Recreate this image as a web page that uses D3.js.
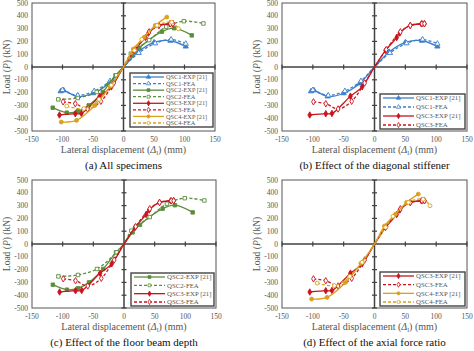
<!DOCTYPE html>
<html>
<head>
<meta charset="utf-8">
<script src="https://cdn.jsdelivr.net/npm/d3@7/dist/d3.min.js"></script>
<style>
  body { margin: 0; background: #fff; }
  svg { display: block; font-family: "Liberation Serif", "Times New Roman", serif; }
</style>
</head>
<body>
<svg id="chart" width="474" height="351"></svg>
<script>
// skeleton curves: displacement (mm) and load (kN)
var qsc1ExpX = [-103, -98, -76, -50, -24, 0, 24, 50, 77, 102]
var qsc1ExpY = [-190, -183, -230, -205, -128, 0, 118, 192, 205, 160]
var qsc1FeaX = [-100, -75, -48, -22, 0, 25, 52, 78, 102]
var qsc1FeaY = [-180, -222, -188, -110, 0, 110, 185, 215, 182]

var qsc2ExpX = [-116, -93, -75, -57, -34, -13, 0, 14, 26, 63, 83, 112]
var qsc2ExpY = [-318, -357, -346, -300, -195, -65, 0, 91, 150, 276, 303, 247]
var qsc2FeaX = [-107, -75, -44, -12, 0, 12, 42, 70, 99, 131]
var qsc2FeaY = [-253, -242, -195, -65, 0, 104, 210, 315, 358, 340]

var qsc3ExpX = [-105, -79, -69, -39, -20, 0, 18, 36, 41, 58, 76, 81]
var qsc3ExpY = [-375, -365, -363, -228, -155, 0, 130, 230, 265, 325, 337, 338]
var qsc3FeaX = [-99, -79, -59, -37, -16, 0, 19, 42, 58, 77, 81]
var qsc3FeaY = [-272, -287, -328, -268, -125, 0, 136, 275, 324, 338, 338]

var qsc4ExpX = [-102, -77, -47, -22, 0, 16, 34, 52, 71]
var qsc4ExpY = [-430, -417, -300, -151, 0, 140, 232, 325, 390]
var qsc4FeaX = [-93, -65, -40, -20, 0, 18, 30, 55, 79, 90]
var qsc4FeaY = [-305, -325, -253, -143, 0, 130, 216, 325, 350, 299]

var xTicks = [-150, -100, -50, 0, 50, 100, 150]
var yTicks = [-500, -400, -300, -200, -100, 0, 100, 200, 300, 400, 500]

var captions = ['(a) All specimens', '(b) Effect of the diagonal stiffener',
  '(c) Effect of the floor beam depth', '(d) Effect of the axial force ratio']

function zip(xs, ys) { return xs.map(function (x, i) { return [x, ys[i]] }) }

var BLUE = '#3d7fcc', GREEN = '#5b8d3b', RED = '#c8141e', GOLD = '#d9a11c'

var series = {
  qsc1Exp: { name: 'QSC1-EXP [21]', color: BLUE, dash: null, fill: true, sym: d3.symbolTriangle, data: zip(qsc1ExpX, qsc1ExpY) },
  qsc1Fea: { name: 'QSC1-FEA', color: BLUE, dash: '3,2', fill: false, sym: d3.symbolTriangle, data: zip(qsc1FeaX, qsc1FeaY) },
  qsc2Exp: { name: 'QSC2-EXP [21]', color: GREEN, dash: null, fill: true, sym: d3.symbolSquare, data: zip(qsc2ExpX, qsc2ExpY) },
  qsc2Fea: { name: 'QSC2-FEA', color: GREEN, dash: '3,2', fill: false, sym: d3.symbolSquare, data: zip(qsc2FeaX, qsc2FeaY) },
  qsc3Exp: { name: 'QSC3-EXP [21]', color: RED, dash: null, fill: true, sym: d3.symbolDiamond, data: zip(qsc3ExpX, qsc3ExpY) },
  qsc3Fea: { name: 'QSC3-FEA', color: RED, dash: '3,2', fill: false, sym: d3.symbolDiamond, data: zip(qsc3FeaX, qsc3FeaY) },
  qsc4Exp: { name: 'QSC4-EXP [21]', color: GOLD, dash: null, fill: true, sym: d3.symbolCircle, data: zip(qsc4ExpX, qsc4ExpY) },
  qsc4Fea: { name: 'QSC4-FEA', color: GOLD, dash: '3,2', fill: false, sym: d3.symbolCircle, data: zip(qsc4FeaX, qsc4FeaY) }
}

var panels = [
  { left: 32, right: 215, top: 3, bottom: 131, caption: captions[0],
    keys: ['qsc1Exp', 'qsc1Fea', 'qsc2Exp', 'qsc2Fea', 'qsc3Exp', 'qsc3Fea', 'qsc4Exp', 'qsc4Fea'],
    legend: { x: 130, y: 73, w: 83, h: 54 } },
  { left: 282, right: 467, top: 3, bottom: 131, caption: captions[1],
    keys: ['qsc1Exp', 'qsc1Fea', 'qsc3Exp', 'qsc3Fea'],
    legend: { x: 380, y: 94, w: 85, h: 35 } },
  { left: 32, right: 216, top: 180, bottom: 308, caption: captions[2],
    keys: ['qsc2Exp', 'qsc2Fea', 'qsc3Exp', 'qsc3Fea'],
    legend: { x: 131, y: 273, w: 83, h: 33 } },
  { left: 282, right: 467, top: 180, bottom: 308, caption: captions[3],
    keys: ['qsc3Exp', 'qsc3Fea', 'qsc4Exp', 'qsc4Fea'],
    legend: { x: 380, y: 272, w: 85, h: 34 } }
]

var svg = d3.select('#chart')

function drawPanel(p) {
  var x = d3.scaleLinear().domain([-150, 150]).range([p.left, p.right])
  var y = d3.scaleLinear().domain([-500, 500]).range([p.bottom, p.top])
  var g = svg.append('g')

  g.append('rect')
    .attr('x', p.left).attr('y', p.top)
    .attr('width', p.right - p.left).attr('height', p.bottom - p.top)
    .attr('fill', 'none').attr('stroke', '#555').attr('stroke-width', 1)

  // tick labels along the frame
  g.selectAll('.xl').data(xTicks).enter().append('text')
    .attr('x', function (d) { return x(d) }).attr('y', p.bottom + 11)
    .attr('text-anchor', 'middle').attr('font-size', 7.5).attr('fill', '#555')
    .text(function (d) { return d })
  g.selectAll('.yl').data(yTicks).enter().append('text')
    .attr('x', p.left - 4).attr('y', function (d) { return y(d) + 2.6 })
    .attr('text-anchor', 'end').attr('font-size', 7.5).attr('fill', '#555')
    .text(function (d) { return d })

  // zero axes with crossing ticks
  g.append('line').attr('x1', p.left).attr('x2', p.right).attr('y1', y(0)).attr('y2', y(0))
    .attr('stroke', '#404040').attr('stroke-width', 1.5)
  g.append('line').attr('x1', x(0)).attr('x2', x(0)).attr('y1', p.top).attr('y2', p.bottom)
    .attr('stroke', '#404040').attr('stroke-width', 1.5)
  g.selectAll('.xt').data(xTicks.filter(function (d) { return d !== 0 })).enter().append('line')
    .attr('x1', function (d) { return x(d) }).attr('x2', function (d) { return x(d) })
    .attr('y1', y(0) - 2.5).attr('y2', y(0) + 2.5)
    .attr('stroke', '#404040').attr('stroke-width', 1.2)
  g.selectAll('.yt').data(yTicks.filter(function (d) { return d !== 0 })).enter().append('line')
    .attr('x1', x(0) - 2.5).attr('x2', x(0) + 2.5)
    .attr('y1', function (d) { return y(d) }).attr('y2', function (d) { return y(d) })
    .attr('stroke', '#404040').attr('stroke-width', 1.2)

  var line = d3.line()
    .x(function (d) { return x(d[0]) }).y(function (d) { return y(d[1]) })
    .curve(d3.curveCatmullRom.alpha(0.5))

  p.keys.forEach(function (k) {
    var s = series[k]
    g.append('path').datum(s.data).attr('d', line)
      .attr('fill', 'none').attr('stroke', s.color).attr('stroke-width', 1.3)
      .attr('stroke-dasharray', s.dash)
    g.selectAll('.m').data(s.data.filter(function (d) { return d[0] !== 0 })).enter().append('path')
      .attr('transform', function (d) { return 'translate(' + x(d[0]) + ',' + y(d[1]) + ')' })
      .attr('d', d3.symbol().type(s.sym).size(12))
      .attr('fill', s.fill ? s.color : '#fff').attr('stroke', s.color).attr('stroke-width', 0.9)
  })

  // legend
  var L = p.legend
  var n = p.keys.length
  var step = (L.h - 8) / (n - 1)
  var lg = g.append('g')
  lg.append('rect').attr('x', L.x).attr('y', L.y).attr('width', L.w).attr('height', L.h)
    .attr('fill', '#fff').attr('stroke', '#444').attr('stroke-width', 1.4)
  p.keys.forEach(function (k, i) {
    var s = series[k]
    var ry = L.y + 4 + step * i
    lg.append('line').attr('x1', L.x + 3).attr('x2', L.x + 34).attr('y1', ry).attr('y2', ry)
      .attr('stroke', s.color).attr('stroke-width', 1.3).attr('stroke-dasharray', s.dash)
    lg.append('path').attr('transform', 'translate(' + (L.x + 18.5) + ',' + ry + ')')
      .attr('d', d3.symbol().type(s.sym).size(8))
      .attr('fill', s.fill ? s.color : '#fff').attr('stroke', s.color).attr('stroke-width', 0.8)
    lg.append('text').attr('x', L.x + 36).attr('y', ry + 2.2)
      .attr('font-size', n > 4 ? 6.3 : 6.8).attr('fill', '#555').text(s.name)
  })

  // axis titles
  var xt = g.append('text').attr('x', x(0)).attr('y', p.bottom + 22)
    .attr('text-anchor', 'middle').attr('font-size', 10).attr('fill', '#555')
  xt.append('tspan').text('Lateral displacement (')
  xt.append('tspan').attr('font-style', 'italic').text('Δ')
  xt.append('tspan').attr('font-size', 7).attr('dy', 2).text('l')
  xt.append('tspan').attr('dy', -2).text(') (mm)')

  var cy = (p.top + p.bottom) / 2
  var yt = g.append('text').attr('transform', 'translate(' + (p.left - 22) + ',' + cy + ') rotate(-90)')
    .attr('text-anchor', 'middle').attr('font-size', 9.5).attr('fill', '#555')
  yt.append('tspan').text('Load (')
  yt.append('tspan').attr('font-style', 'italic').text('P')
  yt.append('tspan').text(') (kN)')

  g.append('text').attr('x', x(0)).attr('y', p.bottom + 38)
    .attr('text-anchor', 'middle').attr('font-size', 11).attr('fill', '#111')
    .text(p.caption)
}

panels.forEach(drawPanel)
</script>
</body>
</html>
